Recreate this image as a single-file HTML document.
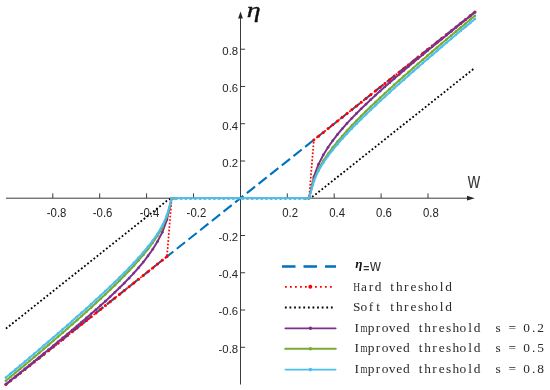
<!DOCTYPE html>
<html><head><meta charset="utf-8"><title>Threshold functions</title>
<style>html,body{margin:0;padding:0;background:#fff}svg{display:block}</style></head>
<body>
<svg width="550" height="390" viewBox="0 0 550 390">
<rect width="550" height="390" fill="#ffffff"/>
<g stroke="#262626" stroke-width="0.9" fill="none">
<path d="M6,198.2 H468"/>
<path d="M240.5,384.5 V18"/>
<path d="M52.80,198 v-4.6"/>
<path d="M240.5,347.29 h4.6"/>
<path d="M99.70,198 v-4.6"/>
<path d="M240.5,310.03 h4.6"/>
<path d="M146.60,198 v-4.6"/>
<path d="M240.5,272.77 h4.6"/>
<path d="M193.50,198 v-4.6"/>
<path d="M240.5,235.51 h4.6"/>
<path d="M287.30,198 v-4.6"/>
<path d="M240.5,160.99 h4.6"/>
<path d="M334.20,198 v-4.6"/>
<path d="M240.5,123.73 h4.6"/>
<path d="M381.10,198 v-4.6"/>
<path d="M240.5,86.47 h4.6"/>
<path d="M428.00,198 v-4.6"/>
<path d="M240.5,49.21 h4.6"/>
</g>
<path d="M474.8,198.2 l-7.8,-2.4 v4.8 z" fill="#262626"/>
<path d="M240.5,11.6 l-2.4,6.8 h4.8 z" fill="#262626"/>
<g font-family="'Liberation Sans', sans-serif" font-size="11.4" fill="#262626">
<text transform="translate(56.60,216.9) scale(1,1.1)" text-anchor="middle">-0.8</text>
<text x="238.2" y="352.59" text-anchor="end">-0.8</text>
<text transform="translate(102.60,216.9) scale(1,1.1)" text-anchor="middle">-0.6</text>
<text x="238.2" y="315.33" text-anchor="end">-0.6</text>
<text transform="translate(149.50,216.9) scale(1,1.1)" text-anchor="middle">-0.4</text>
<text x="238.2" y="278.07" text-anchor="end">-0.4</text>
<text transform="translate(196.40,216.9) scale(1,1.1)" text-anchor="middle">-0.2</text>
<text x="238.2" y="240.81" text-anchor="end">-0.2</text>
<text transform="translate(290.20,216.9) scale(1,1.1)" text-anchor="middle">0.2</text>
<text x="238.2" y="166.79" text-anchor="end">0.2</text>
<text transform="translate(337.10,216.9) scale(1,1.1)" text-anchor="middle">0.4</text>
<text x="238.2" y="129.53" text-anchor="end">0.4</text>
<text transform="translate(384.00,216.9) scale(1,1.1)" text-anchor="middle">0.6</text>
<text x="238.2" y="92.27" text-anchor="end">0.6</text>
<text transform="translate(430.90,216.9) scale(1,1.1)" text-anchor="middle">0.8</text>
<text x="238.2" y="55.01" text-anchor="end">0.8</text>
</g>
<path d="M5.90,384.55 L474.90,11.95" fill="none" stroke="#0072BD" stroke-width="2.1" stroke-dasharray="10.5 4.4" stroke-dashoffset="5.2"/>
<path d="M5.90,384.55 L10.64,380.79 L15.37,377.02 L20.11,373.26 L24.85,369.50 L29.59,365.73 L34.32,361.97 L39.06,358.20 L43.80,354.44 L48.54,350.68 L53.27,346.91 L58.01,343.15 L62.75,339.39 L67.49,335.62 L72.22,331.86 L76.96,328.10 L81.70,324.33 L86.44,320.57 L91.17,316.80 L95.91,313.04 L100.65,309.28 L105.38,305.51 L110.12,301.75 L114.86,297.99 L119.60,294.22 L124.33,290.46 L129.07,286.70 L133.81,282.93 L138.55,279.17 L143.28,275.40 L148.02,271.64 L152.76,267.88 L157.50,264.11 L162.23,260.35 L166.97,256.59 L171.71,198.25 L176.45,198.25 M304.35,198.25 L309.09,198.25 L313.83,139.91 L318.57,136.15 L323.30,132.39 L328.04,128.62 L332.78,124.86 L337.52,121.10 L342.25,117.33 L346.99,113.57 L351.73,109.80 L356.47,106.04 L361.20,102.28 L365.94,98.51 L370.68,94.75 L375.42,90.99 L380.15,87.22 L384.89,83.46 L389.63,79.70 L394.36,75.93 L399.10,72.17 L403.84,68.40 L408.58,64.64 L413.31,60.88 L418.05,57.11 L422.79,53.35 L427.53,49.59 L432.26,45.82 L437.00,42.06 L441.74,38.30 L446.48,34.53 L451.21,30.77 L455.95,27.00 L460.69,23.24 L465.43,19.48 L470.16,15.71 L474.90,11.95" fill="none" stroke="#ff0000" stroke-width="1.7" stroke-dasharray="1.7 1.8"/>
<circle cx="5.90" cy="384.55" r="1.5" fill="#ff0000"/><circle cx="10.64" cy="380.79" r="1.5" fill="#ff0000"/><circle cx="15.37" cy="377.02" r="1.5" fill="#ff0000"/><circle cx="20.11" cy="373.26" r="1.5" fill="#ff0000"/><circle cx="24.85" cy="369.50" r="1.5" fill="#ff0000"/><circle cx="29.59" cy="365.73" r="1.5" fill="#ff0000"/><circle cx="34.32" cy="361.97" r="1.5" fill="#ff0000"/><circle cx="39.06" cy="358.20" r="1.5" fill="#ff0000"/><circle cx="43.80" cy="354.44" r="1.5" fill="#ff0000"/><circle cx="48.54" cy="350.68" r="1.5" fill="#ff0000"/><circle cx="53.27" cy="346.91" r="1.5" fill="#ff0000"/><circle cx="58.01" cy="343.15" r="1.5" fill="#ff0000"/><circle cx="62.75" cy="339.39" r="1.5" fill="#ff0000"/><circle cx="67.49" cy="335.62" r="1.5" fill="#ff0000"/><circle cx="72.22" cy="331.86" r="1.5" fill="#ff0000"/><circle cx="76.96" cy="328.10" r="1.5" fill="#ff0000"/><circle cx="81.70" cy="324.33" r="1.5" fill="#ff0000"/><circle cx="86.44" cy="320.57" r="1.5" fill="#ff0000"/><circle cx="91.17" cy="316.80" r="1.5" fill="#ff0000"/><circle cx="95.91" cy="313.04" r="1.5" fill="#ff0000"/><circle cx="100.65" cy="309.28" r="1.5" fill="#ff0000"/><circle cx="105.38" cy="305.51" r="1.5" fill="#ff0000"/><circle cx="110.12" cy="301.75" r="1.5" fill="#ff0000"/><circle cx="114.86" cy="297.99" r="1.5" fill="#ff0000"/><circle cx="119.60" cy="294.22" r="1.5" fill="#ff0000"/><circle cx="124.33" cy="290.46" r="1.5" fill="#ff0000"/><circle cx="129.07" cy="286.70" r="1.5" fill="#ff0000"/><circle cx="133.81" cy="282.93" r="1.5" fill="#ff0000"/><circle cx="138.55" cy="279.17" r="1.5" fill="#ff0000"/><circle cx="143.28" cy="275.40" r="1.5" fill="#ff0000"/><circle cx="148.02" cy="271.64" r="1.5" fill="#ff0000"/><circle cx="152.76" cy="267.88" r="1.5" fill="#ff0000"/><circle cx="157.50" cy="264.11" r="1.5" fill="#ff0000"/><circle cx="162.23" cy="260.35" r="1.5" fill="#ff0000"/><circle cx="166.97" cy="256.59" r="1.5" fill="#ff0000"/><circle cx="313.83" cy="139.91" r="1.5" fill="#ff0000"/><circle cx="318.57" cy="136.15" r="1.5" fill="#ff0000"/><circle cx="323.30" cy="132.39" r="1.5" fill="#ff0000"/><circle cx="328.04" cy="128.62" r="1.5" fill="#ff0000"/><circle cx="332.78" cy="124.86" r="1.5" fill="#ff0000"/><circle cx="337.52" cy="121.10" r="1.5" fill="#ff0000"/><circle cx="342.25" cy="117.33" r="1.5" fill="#ff0000"/><circle cx="346.99" cy="113.57" r="1.5" fill="#ff0000"/><circle cx="351.73" cy="109.80" r="1.5" fill="#ff0000"/><circle cx="356.47" cy="106.04" r="1.5" fill="#ff0000"/><circle cx="361.20" cy="102.28" r="1.5" fill="#ff0000"/><circle cx="365.94" cy="98.51" r="1.5" fill="#ff0000"/><circle cx="370.68" cy="94.75" r="1.5" fill="#ff0000"/><circle cx="375.42" cy="90.99" r="1.5" fill="#ff0000"/><circle cx="380.15" cy="87.22" r="1.5" fill="#ff0000"/><circle cx="384.89" cy="83.46" r="1.5" fill="#ff0000"/><circle cx="389.63" cy="79.70" r="1.5" fill="#ff0000"/><circle cx="394.36" cy="75.93" r="1.5" fill="#ff0000"/><circle cx="399.10" cy="72.17" r="1.5" fill="#ff0000"/><circle cx="403.84" cy="68.40" r="1.5" fill="#ff0000"/><circle cx="408.58" cy="64.64" r="1.5" fill="#ff0000"/><circle cx="413.31" cy="60.88" r="1.5" fill="#ff0000"/><circle cx="418.05" cy="57.11" r="1.5" fill="#ff0000"/><circle cx="422.79" cy="53.35" r="1.5" fill="#ff0000"/><circle cx="427.53" cy="49.59" r="1.5" fill="#ff0000"/><circle cx="432.26" cy="45.82" r="1.5" fill="#ff0000"/><circle cx="437.00" cy="42.06" r="1.5" fill="#ff0000"/><circle cx="441.74" cy="38.30" r="1.5" fill="#ff0000"/><circle cx="446.48" cy="34.53" r="1.5" fill="#ff0000"/><circle cx="451.21" cy="30.77" r="1.5" fill="#ff0000"/><circle cx="455.95" cy="27.00" r="1.5" fill="#ff0000"/><circle cx="460.69" cy="23.24" r="1.5" fill="#ff0000"/><circle cx="465.43" cy="19.48" r="1.5" fill="#ff0000"/><circle cx="470.16" cy="15.71" r="1.5" fill="#ff0000"/><circle cx="474.90" cy="11.95" r="1.5" fill="#ff0000"/>
<path d="M5.90,328.66 L10.64,324.90 L15.37,321.13 L20.11,317.37 L24.85,313.61 L29.59,309.84 L34.32,306.08 L39.06,302.31 L43.80,298.55 L48.54,294.79 L53.27,291.02 L58.01,287.26 L62.75,283.50 L67.49,279.73 L72.22,275.97 L76.96,272.21 L81.70,268.44 L86.44,264.68 L91.17,260.91 L95.91,257.15 L100.65,253.39 L105.38,249.62 L110.12,245.86 L114.86,242.10 L119.60,238.33 L124.33,234.57 L129.07,230.81 L133.81,227.04 L138.55,223.28 L143.28,219.51 L148.02,215.75 L152.76,211.99 L157.50,208.22 L162.23,204.46 L166.97,200.70 L171.71,198.25 L176.45,198.25 M304.35,198.25 L309.09,198.25 L313.83,195.80 L318.57,192.04 L323.30,188.28 L328.04,184.51 L332.78,180.75 L337.52,176.99 L342.25,173.22 L346.99,169.46 L351.73,165.69 L356.47,161.93 L361.20,158.17 L365.94,154.40 L370.68,150.64 L375.42,146.88 L380.15,143.11 L384.89,139.35 L389.63,135.59 L394.36,131.82 L399.10,128.06 L403.84,124.29 L408.58,120.53 L413.31,116.77 L418.05,113.00 L422.79,109.24 L427.53,105.48 L432.26,101.71 L437.00,97.95 L441.74,94.19 L446.48,90.42 L451.21,86.66 L455.95,82.89 L460.69,79.13 L465.43,75.37 L470.16,71.60 L474.90,67.84" fill="none" stroke="#000000" stroke-width="1.8" stroke-dasharray="1.8 2.2"/>
<path d="M5.90,384.18 L10.64,380.37 L15.37,376.56 L20.11,372.74 L24.85,368.91 L29.59,365.08 L34.32,361.24 L39.06,357.39 L43.80,353.52 L48.54,349.65 L53.27,345.76 L58.01,341.85 L62.75,337.93 L67.49,333.99 L72.22,330.02 L76.96,326.02 L81.70,321.99 L86.44,317.92 L91.17,313.81 L95.91,309.65 L100.65,305.44 L105.38,301.15 L110.12,296.78 L114.86,292.32 L119.60,287.75 L124.33,283.04 L129.07,278.16 L133.81,273.08 L138.55,267.74 L143.28,262.06 L148.02,255.94 L152.76,249.21 L157.50,241.56 L162.23,232.35 L166.97,219.62 L171.71,198.25 L176.45,198.25 M304.35,198.25 L309.09,198.25 L313.83,176.88 L318.57,164.15 L323.30,154.94 L328.04,147.29 L332.78,140.56 L337.52,134.44 L342.25,128.76 L346.99,123.42 L351.73,118.34 L356.47,113.46 L361.20,108.75 L365.94,104.18 L370.68,99.72 L375.42,95.35 L380.15,91.06 L384.89,86.85 L389.63,82.69 L394.36,78.58 L399.10,74.51 L403.84,70.48 L408.58,66.48 L413.31,62.51 L418.05,58.57 L422.79,54.65 L427.53,50.74 L432.26,46.85 L437.00,42.98 L441.74,39.11 L446.48,35.26 L451.21,31.42 L455.95,27.59 L460.69,23.76 L465.43,19.94 L470.16,16.13 L474.90,12.32" fill="none" stroke="#7E2F8E" stroke-width="2" stroke-linejoin="round"/>
<circle cx="5.90" cy="384.18" r="1.35" fill="#7E2F8E"/><circle cx="10.64" cy="380.37" r="1.35" fill="#7E2F8E"/><circle cx="15.37" cy="376.56" r="1.35" fill="#7E2F8E"/><circle cx="20.11" cy="372.74" r="1.35" fill="#7E2F8E"/><circle cx="24.85" cy="368.91" r="1.35" fill="#7E2F8E"/><circle cx="29.59" cy="365.08" r="1.35" fill="#7E2F8E"/><circle cx="34.32" cy="361.24" r="1.35" fill="#7E2F8E"/><circle cx="39.06" cy="357.39" r="1.35" fill="#7E2F8E"/><circle cx="43.80" cy="353.52" r="1.35" fill="#7E2F8E"/><circle cx="48.54" cy="349.65" r="1.35" fill="#7E2F8E"/><circle cx="53.27" cy="345.76" r="1.35" fill="#7E2F8E"/><circle cx="58.01" cy="341.85" r="1.35" fill="#7E2F8E"/><circle cx="62.75" cy="337.93" r="1.35" fill="#7E2F8E"/><circle cx="67.49" cy="333.99" r="1.35" fill="#7E2F8E"/><circle cx="72.22" cy="330.02" r="1.35" fill="#7E2F8E"/><circle cx="76.96" cy="326.02" r="1.35" fill="#7E2F8E"/><circle cx="81.70" cy="321.99" r="1.35" fill="#7E2F8E"/><circle cx="86.44" cy="317.92" r="1.35" fill="#7E2F8E"/><circle cx="91.17" cy="313.81" r="1.35" fill="#7E2F8E"/><circle cx="95.91" cy="309.65" r="1.35" fill="#7E2F8E"/><circle cx="100.65" cy="305.44" r="1.35" fill="#7E2F8E"/><circle cx="105.38" cy="301.15" r="1.35" fill="#7E2F8E"/><circle cx="110.12" cy="296.78" r="1.35" fill="#7E2F8E"/><circle cx="114.86" cy="292.32" r="1.35" fill="#7E2F8E"/><circle cx="119.60" cy="287.75" r="1.35" fill="#7E2F8E"/><circle cx="124.33" cy="283.04" r="1.35" fill="#7E2F8E"/><circle cx="129.07" cy="278.16" r="1.35" fill="#7E2F8E"/><circle cx="133.81" cy="273.08" r="1.35" fill="#7E2F8E"/><circle cx="138.55" cy="267.74" r="1.35" fill="#7E2F8E"/><circle cx="143.28" cy="262.06" r="1.35" fill="#7E2F8E"/><circle cx="148.02" cy="255.94" r="1.35" fill="#7E2F8E"/><circle cx="152.76" cy="249.21" r="1.35" fill="#7E2F8E"/><circle cx="157.50" cy="241.56" r="1.35" fill="#7E2F8E"/><circle cx="162.23" cy="232.35" r="1.35" fill="#7E2F8E"/><circle cx="166.97" cy="219.62" r="1.35" fill="#7E2F8E"/><circle cx="171.71" cy="198.25" r="1.35" fill="#7E2F8E"/><circle cx="176.45" cy="198.25" r="1.35" fill="#7E2F8E"/><circle cx="181.18" cy="198.25" r="1.35" fill="#7E2F8E"/><circle cx="185.92" cy="198.25" r="1.35" fill="#7E2F8E"/><circle cx="190.66" cy="198.25" r="1.35" fill="#7E2F8E"/><circle cx="195.39" cy="198.25" r="1.35" fill="#7E2F8E"/><circle cx="200.13" cy="198.25" r="1.35" fill="#7E2F8E"/><circle cx="204.87" cy="198.25" r="1.35" fill="#7E2F8E"/><circle cx="209.61" cy="198.25" r="1.35" fill="#7E2F8E"/><circle cx="214.34" cy="198.25" r="1.35" fill="#7E2F8E"/><circle cx="219.08" cy="198.25" r="1.35" fill="#7E2F8E"/><circle cx="223.82" cy="198.25" r="1.35" fill="#7E2F8E"/><circle cx="228.56" cy="198.25" r="1.35" fill="#7E2F8E"/><circle cx="233.29" cy="198.25" r="1.35" fill="#7E2F8E"/><circle cx="238.03" cy="198.25" r="1.35" fill="#7E2F8E"/><circle cx="242.77" cy="198.25" r="1.35" fill="#7E2F8E"/><circle cx="247.51" cy="198.25" r="1.35" fill="#7E2F8E"/><circle cx="252.24" cy="198.25" r="1.35" fill="#7E2F8E"/><circle cx="256.98" cy="198.25" r="1.35" fill="#7E2F8E"/><circle cx="261.72" cy="198.25" r="1.35" fill="#7E2F8E"/><circle cx="266.46" cy="198.25" r="1.35" fill="#7E2F8E"/><circle cx="271.19" cy="198.25" r="1.35" fill="#7E2F8E"/><circle cx="275.93" cy="198.25" r="1.35" fill="#7E2F8E"/><circle cx="280.67" cy="198.25" r="1.35" fill="#7E2F8E"/><circle cx="285.41" cy="198.25" r="1.35" fill="#7E2F8E"/><circle cx="290.14" cy="198.25" r="1.35" fill="#7E2F8E"/><circle cx="294.88" cy="198.25" r="1.35" fill="#7E2F8E"/><circle cx="299.62" cy="198.25" r="1.35" fill="#7E2F8E"/><circle cx="304.35" cy="198.25" r="1.35" fill="#7E2F8E"/><circle cx="309.09" cy="198.25" r="1.35" fill="#7E2F8E"/><circle cx="313.83" cy="176.88" r="1.35" fill="#7E2F8E"/><circle cx="318.57" cy="164.15" r="1.35" fill="#7E2F8E"/><circle cx="323.30" cy="154.94" r="1.35" fill="#7E2F8E"/><circle cx="328.04" cy="147.29" r="1.35" fill="#7E2F8E"/><circle cx="332.78" cy="140.56" r="1.35" fill="#7E2F8E"/><circle cx="337.52" cy="134.44" r="1.35" fill="#7E2F8E"/><circle cx="342.25" cy="128.76" r="1.35" fill="#7E2F8E"/><circle cx="346.99" cy="123.42" r="1.35" fill="#7E2F8E"/><circle cx="351.73" cy="118.34" r="1.35" fill="#7E2F8E"/><circle cx="356.47" cy="113.46" r="1.35" fill="#7E2F8E"/><circle cx="361.20" cy="108.75" r="1.35" fill="#7E2F8E"/><circle cx="365.94" cy="104.18" r="1.35" fill="#7E2F8E"/><circle cx="370.68" cy="99.72" r="1.35" fill="#7E2F8E"/><circle cx="375.42" cy="95.35" r="1.35" fill="#7E2F8E"/><circle cx="380.15" cy="91.06" r="1.35" fill="#7E2F8E"/><circle cx="384.89" cy="86.85" r="1.35" fill="#7E2F8E"/><circle cx="389.63" cy="82.69" r="1.35" fill="#7E2F8E"/><circle cx="394.36" cy="78.58" r="1.35" fill="#7E2F8E"/><circle cx="399.10" cy="74.51" r="1.35" fill="#7E2F8E"/><circle cx="403.84" cy="70.48" r="1.35" fill="#7E2F8E"/><circle cx="408.58" cy="66.48" r="1.35" fill="#7E2F8E"/><circle cx="413.31" cy="62.51" r="1.35" fill="#7E2F8E"/><circle cx="418.05" cy="58.57" r="1.35" fill="#7E2F8E"/><circle cx="422.79" cy="54.65" r="1.35" fill="#7E2F8E"/><circle cx="427.53" cy="50.74" r="1.35" fill="#7E2F8E"/><circle cx="432.26" cy="46.85" r="1.35" fill="#7E2F8E"/><circle cx="437.00" cy="42.98" r="1.35" fill="#7E2F8E"/><circle cx="441.74" cy="39.11" r="1.35" fill="#7E2F8E"/><circle cx="446.48" cy="35.26" r="1.35" fill="#7E2F8E"/><circle cx="451.21" cy="31.42" r="1.35" fill="#7E2F8E"/><circle cx="455.95" cy="27.59" r="1.35" fill="#7E2F8E"/><circle cx="460.69" cy="23.76" r="1.35" fill="#7E2F8E"/><circle cx="465.43" cy="19.94" r="1.35" fill="#7E2F8E"/><circle cx="470.16" cy="16.13" r="1.35" fill="#7E2F8E"/><circle cx="474.90" cy="12.32" r="1.35" fill="#7E2F8E"/>
<path d="M5.90,380.73 L10.64,376.79 L15.37,372.85 L20.11,368.89 L24.85,364.92 L29.59,360.94 L34.32,356.95 L39.06,352.94 L43.80,348.92 L48.54,344.88 L53.27,340.82 L58.01,336.75 L62.75,332.65 L67.49,328.52 L72.22,324.37 L76.96,320.19 L81.70,315.98 L86.44,311.73 L91.17,307.45 L95.91,303.11 L100.65,298.73 L105.38,294.28 L110.12,289.77 L114.86,285.18 L119.60,280.50 L124.33,275.71 L129.07,270.79 L133.81,265.71 L138.55,260.43 L143.28,254.90 L148.02,249.03 L152.76,242.69 L157.50,235.65 L162.23,227.38 L166.97,216.30 L171.71,198.25 L176.45,198.25 M304.35,198.25 L309.09,198.25 L313.83,180.20 L318.57,169.12 L323.30,160.85 L328.04,153.81 L332.78,147.47 L337.52,141.60 L342.25,136.07 L346.99,130.79 L351.73,125.71 L356.47,120.79 L361.20,116.00 L365.94,111.32 L370.68,106.73 L375.42,102.22 L380.15,97.77 L384.89,93.39 L389.63,89.05 L394.36,84.77 L399.10,80.52 L403.84,76.31 L408.58,72.13 L413.31,67.98 L418.05,63.85 L422.79,59.75 L427.53,55.68 L432.26,51.62 L437.00,47.58 L441.74,43.56 L446.48,39.55 L451.21,35.56 L455.95,31.58 L460.69,27.61 L465.43,23.65 L470.16,19.71 L474.90,15.77" fill="none" stroke="#77AC30" stroke-width="2" stroke-linejoin="round"/>
<circle cx="5.90" cy="380.73" r="1.35" fill="#77AC30"/><circle cx="10.64" cy="376.79" r="1.35" fill="#77AC30"/><circle cx="15.37" cy="372.85" r="1.35" fill="#77AC30"/><circle cx="20.11" cy="368.89" r="1.35" fill="#77AC30"/><circle cx="24.85" cy="364.92" r="1.35" fill="#77AC30"/><circle cx="29.59" cy="360.94" r="1.35" fill="#77AC30"/><circle cx="34.32" cy="356.95" r="1.35" fill="#77AC30"/><circle cx="39.06" cy="352.94" r="1.35" fill="#77AC30"/><circle cx="43.80" cy="348.92" r="1.35" fill="#77AC30"/><circle cx="48.54" cy="344.88" r="1.35" fill="#77AC30"/><circle cx="53.27" cy="340.82" r="1.35" fill="#77AC30"/><circle cx="58.01" cy="336.75" r="1.35" fill="#77AC30"/><circle cx="62.75" cy="332.65" r="1.35" fill="#77AC30"/><circle cx="67.49" cy="328.52" r="1.35" fill="#77AC30"/><circle cx="72.22" cy="324.37" r="1.35" fill="#77AC30"/><circle cx="76.96" cy="320.19" r="1.35" fill="#77AC30"/><circle cx="81.70" cy="315.98" r="1.35" fill="#77AC30"/><circle cx="86.44" cy="311.73" r="1.35" fill="#77AC30"/><circle cx="91.17" cy="307.45" r="1.35" fill="#77AC30"/><circle cx="95.91" cy="303.11" r="1.35" fill="#77AC30"/><circle cx="100.65" cy="298.73" r="1.35" fill="#77AC30"/><circle cx="105.38" cy="294.28" r="1.35" fill="#77AC30"/><circle cx="110.12" cy="289.77" r="1.35" fill="#77AC30"/><circle cx="114.86" cy="285.18" r="1.35" fill="#77AC30"/><circle cx="119.60" cy="280.50" r="1.35" fill="#77AC30"/><circle cx="124.33" cy="275.71" r="1.35" fill="#77AC30"/><circle cx="129.07" cy="270.79" r="1.35" fill="#77AC30"/><circle cx="133.81" cy="265.71" r="1.35" fill="#77AC30"/><circle cx="138.55" cy="260.43" r="1.35" fill="#77AC30"/><circle cx="143.28" cy="254.90" r="1.35" fill="#77AC30"/><circle cx="148.02" cy="249.03" r="1.35" fill="#77AC30"/><circle cx="152.76" cy="242.69" r="1.35" fill="#77AC30"/><circle cx="157.50" cy="235.65" r="1.35" fill="#77AC30"/><circle cx="162.23" cy="227.38" r="1.35" fill="#77AC30"/><circle cx="166.97" cy="216.30" r="1.35" fill="#77AC30"/><circle cx="171.71" cy="198.25" r="1.35" fill="#77AC30"/><circle cx="176.45" cy="198.25" r="1.35" fill="#77AC30"/><circle cx="181.18" cy="198.25" r="1.35" fill="#77AC30"/><circle cx="185.92" cy="198.25" r="1.35" fill="#77AC30"/><circle cx="190.66" cy="198.25" r="1.35" fill="#77AC30"/><circle cx="195.39" cy="198.25" r="1.35" fill="#77AC30"/><circle cx="200.13" cy="198.25" r="1.35" fill="#77AC30"/><circle cx="204.87" cy="198.25" r="1.35" fill="#77AC30"/><circle cx="209.61" cy="198.25" r="1.35" fill="#77AC30"/><circle cx="214.34" cy="198.25" r="1.35" fill="#77AC30"/><circle cx="219.08" cy="198.25" r="1.35" fill="#77AC30"/><circle cx="223.82" cy="198.25" r="1.35" fill="#77AC30"/><circle cx="228.56" cy="198.25" r="1.35" fill="#77AC30"/><circle cx="233.29" cy="198.25" r="1.35" fill="#77AC30"/><circle cx="238.03" cy="198.25" r="1.35" fill="#77AC30"/><circle cx="242.77" cy="198.25" r="1.35" fill="#77AC30"/><circle cx="247.51" cy="198.25" r="1.35" fill="#77AC30"/><circle cx="252.24" cy="198.25" r="1.35" fill="#77AC30"/><circle cx="256.98" cy="198.25" r="1.35" fill="#77AC30"/><circle cx="261.72" cy="198.25" r="1.35" fill="#77AC30"/><circle cx="266.46" cy="198.25" r="1.35" fill="#77AC30"/><circle cx="271.19" cy="198.25" r="1.35" fill="#77AC30"/><circle cx="275.93" cy="198.25" r="1.35" fill="#77AC30"/><circle cx="280.67" cy="198.25" r="1.35" fill="#77AC30"/><circle cx="285.41" cy="198.25" r="1.35" fill="#77AC30"/><circle cx="290.14" cy="198.25" r="1.35" fill="#77AC30"/><circle cx="294.88" cy="198.25" r="1.35" fill="#77AC30"/><circle cx="299.62" cy="198.25" r="1.35" fill="#77AC30"/><circle cx="304.35" cy="198.25" r="1.35" fill="#77AC30"/><circle cx="309.09" cy="198.25" r="1.35" fill="#77AC30"/><circle cx="313.83" cy="180.20" r="1.35" fill="#77AC30"/><circle cx="318.57" cy="169.12" r="1.35" fill="#77AC30"/><circle cx="323.30" cy="160.85" r="1.35" fill="#77AC30"/><circle cx="328.04" cy="153.81" r="1.35" fill="#77AC30"/><circle cx="332.78" cy="147.47" r="1.35" fill="#77AC30"/><circle cx="337.52" cy="141.60" r="1.35" fill="#77AC30"/><circle cx="342.25" cy="136.07" r="1.35" fill="#77AC30"/><circle cx="346.99" cy="130.79" r="1.35" fill="#77AC30"/><circle cx="351.73" cy="125.71" r="1.35" fill="#77AC30"/><circle cx="356.47" cy="120.79" r="1.35" fill="#77AC30"/><circle cx="361.20" cy="116.00" r="1.35" fill="#77AC30"/><circle cx="365.94" cy="111.32" r="1.35" fill="#77AC30"/><circle cx="370.68" cy="106.73" r="1.35" fill="#77AC30"/><circle cx="375.42" cy="102.22" r="1.35" fill="#77AC30"/><circle cx="380.15" cy="97.77" r="1.35" fill="#77AC30"/><circle cx="384.89" cy="93.39" r="1.35" fill="#77AC30"/><circle cx="389.63" cy="89.05" r="1.35" fill="#77AC30"/><circle cx="394.36" cy="84.77" r="1.35" fill="#77AC30"/><circle cx="399.10" cy="80.52" r="1.35" fill="#77AC30"/><circle cx="403.84" cy="76.31" r="1.35" fill="#77AC30"/><circle cx="408.58" cy="72.13" r="1.35" fill="#77AC30"/><circle cx="413.31" cy="67.98" r="1.35" fill="#77AC30"/><circle cx="418.05" cy="63.85" r="1.35" fill="#77AC30"/><circle cx="422.79" cy="59.75" r="1.35" fill="#77AC30"/><circle cx="427.53" cy="55.68" r="1.35" fill="#77AC30"/><circle cx="432.26" cy="51.62" r="1.35" fill="#77AC30"/><circle cx="437.00" cy="47.58" r="1.35" fill="#77AC30"/><circle cx="441.74" cy="43.56" r="1.35" fill="#77AC30"/><circle cx="446.48" cy="39.55" r="1.35" fill="#77AC30"/><circle cx="451.21" cy="35.56" r="1.35" fill="#77AC30"/><circle cx="455.95" cy="31.58" r="1.35" fill="#77AC30"/><circle cx="460.69" cy="27.61" r="1.35" fill="#77AC30"/><circle cx="465.43" cy="23.65" r="1.35" fill="#77AC30"/><circle cx="470.16" cy="19.71" r="1.35" fill="#77AC30"/><circle cx="474.90" cy="15.77" r="1.35" fill="#77AC30"/>
<path d="M5.90,377.55 L10.64,373.60 L15.37,369.63 L20.11,365.66 L24.85,361.68 L29.59,357.68 L34.32,353.67 L39.06,349.65 L43.80,345.62 L48.54,341.57 L53.27,337.50 L58.01,333.42 L62.75,329.32 L67.49,325.19 L72.22,321.05 L76.96,316.87 L81.70,312.67 L86.44,308.43 L91.17,304.16 L95.91,299.85 L100.65,295.50 L105.38,291.09 L110.12,286.62 L114.86,282.08 L119.60,277.45 L124.33,272.74 L129.07,267.90 L133.81,262.92 L138.55,257.76 L143.28,252.37 L148.02,246.68 L152.76,240.55 L157.50,233.77 L162.23,225.86 L166.97,215.31 L171.71,198.25 L176.45,198.25 L181.18,198.25 L185.92,198.25 L190.66,198.25 L195.39,198.25 L200.13,198.25 L204.87,198.25 L209.61,198.25 L214.34,198.25 L219.08,198.25 L223.82,198.25 L228.56,198.25 L233.29,198.25 L238.03,198.25 L242.77,198.25 L247.51,198.25 L252.24,198.25 L256.98,198.25 L261.72,198.25 L266.46,198.25 L271.19,198.25 L275.93,198.25 L280.67,198.25 L285.41,198.25 L290.14,198.25 L294.88,198.25 L299.62,198.25 L304.35,198.25 L309.09,198.25 L313.83,181.19 L318.57,170.64 L323.30,162.73 L328.04,155.95 L332.78,149.82 L337.52,144.13 L342.25,138.74 L346.99,133.58 L351.73,128.60 L356.47,123.76 L361.20,119.05 L365.94,114.42 L370.68,109.88 L375.42,105.41 L380.15,101.00 L384.89,96.65 L389.63,92.34 L394.36,88.07 L399.10,83.83 L403.84,79.63 L408.58,75.45 L413.31,71.31 L418.05,67.18 L422.79,63.08 L427.53,59.00 L432.26,54.93 L437.00,50.88 L441.74,46.85 L446.48,42.83 L451.21,38.82 L455.95,34.82 L460.69,30.84 L465.43,26.87 L470.16,22.90 L474.90,18.95" fill="none" stroke="#4DBEEE" stroke-width="2" stroke-linejoin="round"/>
<circle cx="5.90" cy="377.55" r="1.35" fill="#4DBEEE"/><circle cx="10.64" cy="373.60" r="1.35" fill="#4DBEEE"/><circle cx="15.37" cy="369.63" r="1.35" fill="#4DBEEE"/><circle cx="20.11" cy="365.66" r="1.35" fill="#4DBEEE"/><circle cx="24.85" cy="361.68" r="1.35" fill="#4DBEEE"/><circle cx="29.59" cy="357.68" r="1.35" fill="#4DBEEE"/><circle cx="34.32" cy="353.67" r="1.35" fill="#4DBEEE"/><circle cx="39.06" cy="349.65" r="1.35" fill="#4DBEEE"/><circle cx="43.80" cy="345.62" r="1.35" fill="#4DBEEE"/><circle cx="48.54" cy="341.57" r="1.35" fill="#4DBEEE"/><circle cx="53.27" cy="337.50" r="1.35" fill="#4DBEEE"/><circle cx="58.01" cy="333.42" r="1.35" fill="#4DBEEE"/><circle cx="62.75" cy="329.32" r="1.35" fill="#4DBEEE"/><circle cx="67.49" cy="325.19" r="1.35" fill="#4DBEEE"/><circle cx="72.22" cy="321.05" r="1.35" fill="#4DBEEE"/><circle cx="76.96" cy="316.87" r="1.35" fill="#4DBEEE"/><circle cx="81.70" cy="312.67" r="1.35" fill="#4DBEEE"/><circle cx="86.44" cy="308.43" r="1.35" fill="#4DBEEE"/><circle cx="91.17" cy="304.16" r="1.35" fill="#4DBEEE"/><circle cx="95.91" cy="299.85" r="1.35" fill="#4DBEEE"/><circle cx="100.65" cy="295.50" r="1.35" fill="#4DBEEE"/><circle cx="105.38" cy="291.09" r="1.35" fill="#4DBEEE"/><circle cx="110.12" cy="286.62" r="1.35" fill="#4DBEEE"/><circle cx="114.86" cy="282.08" r="1.35" fill="#4DBEEE"/><circle cx="119.60" cy="277.45" r="1.35" fill="#4DBEEE"/><circle cx="124.33" cy="272.74" r="1.35" fill="#4DBEEE"/><circle cx="129.07" cy="267.90" r="1.35" fill="#4DBEEE"/><circle cx="133.81" cy="262.92" r="1.35" fill="#4DBEEE"/><circle cx="138.55" cy="257.76" r="1.35" fill="#4DBEEE"/><circle cx="143.28" cy="252.37" r="1.35" fill="#4DBEEE"/><circle cx="148.02" cy="246.68" r="1.35" fill="#4DBEEE"/><circle cx="152.76" cy="240.55" r="1.35" fill="#4DBEEE"/><circle cx="157.50" cy="233.77" r="1.35" fill="#4DBEEE"/><circle cx="162.23" cy="225.86" r="1.35" fill="#4DBEEE"/><circle cx="166.97" cy="215.31" r="1.35" fill="#4DBEEE"/><circle cx="171.71" cy="198.25" r="1.35" fill="#4DBEEE"/><circle cx="176.45" cy="198.25" r="1.35" fill="#4DBEEE"/><circle cx="181.18" cy="198.25" r="1.35" fill="#4DBEEE"/><circle cx="185.92" cy="198.25" r="1.35" fill="#4DBEEE"/><circle cx="190.66" cy="198.25" r="1.35" fill="#4DBEEE"/><circle cx="195.39" cy="198.25" r="1.35" fill="#4DBEEE"/><circle cx="200.13" cy="198.25" r="1.35" fill="#4DBEEE"/><circle cx="204.87" cy="198.25" r="1.35" fill="#4DBEEE"/><circle cx="209.61" cy="198.25" r="1.35" fill="#4DBEEE"/><circle cx="214.34" cy="198.25" r="1.35" fill="#4DBEEE"/><circle cx="219.08" cy="198.25" r="1.35" fill="#4DBEEE"/><circle cx="223.82" cy="198.25" r="1.35" fill="#4DBEEE"/><circle cx="228.56" cy="198.25" r="1.35" fill="#4DBEEE"/><circle cx="233.29" cy="198.25" r="1.35" fill="#4DBEEE"/><circle cx="238.03" cy="198.25" r="1.35" fill="#4DBEEE"/><circle cx="242.77" cy="198.25" r="1.35" fill="#4DBEEE"/><circle cx="247.51" cy="198.25" r="1.35" fill="#4DBEEE"/><circle cx="252.24" cy="198.25" r="1.35" fill="#4DBEEE"/><circle cx="256.98" cy="198.25" r="1.35" fill="#4DBEEE"/><circle cx="261.72" cy="198.25" r="1.35" fill="#4DBEEE"/><circle cx="266.46" cy="198.25" r="1.35" fill="#4DBEEE"/><circle cx="271.19" cy="198.25" r="1.35" fill="#4DBEEE"/><circle cx="275.93" cy="198.25" r="1.35" fill="#4DBEEE"/><circle cx="280.67" cy="198.25" r="1.35" fill="#4DBEEE"/><circle cx="285.41" cy="198.25" r="1.35" fill="#4DBEEE"/><circle cx="290.14" cy="198.25" r="1.35" fill="#4DBEEE"/><circle cx="294.88" cy="198.25" r="1.35" fill="#4DBEEE"/><circle cx="299.62" cy="198.25" r="1.35" fill="#4DBEEE"/><circle cx="304.35" cy="198.25" r="1.35" fill="#4DBEEE"/><circle cx="309.09" cy="198.25" r="1.35" fill="#4DBEEE"/><circle cx="313.83" cy="181.19" r="1.35" fill="#4DBEEE"/><circle cx="318.57" cy="170.64" r="1.35" fill="#4DBEEE"/><circle cx="323.30" cy="162.73" r="1.35" fill="#4DBEEE"/><circle cx="328.04" cy="155.95" r="1.35" fill="#4DBEEE"/><circle cx="332.78" cy="149.82" r="1.35" fill="#4DBEEE"/><circle cx="337.52" cy="144.13" r="1.35" fill="#4DBEEE"/><circle cx="342.25" cy="138.74" r="1.35" fill="#4DBEEE"/><circle cx="346.99" cy="133.58" r="1.35" fill="#4DBEEE"/><circle cx="351.73" cy="128.60" r="1.35" fill="#4DBEEE"/><circle cx="356.47" cy="123.76" r="1.35" fill="#4DBEEE"/><circle cx="361.20" cy="119.05" r="1.35" fill="#4DBEEE"/><circle cx="365.94" cy="114.42" r="1.35" fill="#4DBEEE"/><circle cx="370.68" cy="109.88" r="1.35" fill="#4DBEEE"/><circle cx="375.42" cy="105.41" r="1.35" fill="#4DBEEE"/><circle cx="380.15" cy="101.00" r="1.35" fill="#4DBEEE"/><circle cx="384.89" cy="96.65" r="1.35" fill="#4DBEEE"/><circle cx="389.63" cy="92.34" r="1.35" fill="#4DBEEE"/><circle cx="394.36" cy="88.07" r="1.35" fill="#4DBEEE"/><circle cx="399.10" cy="83.83" r="1.35" fill="#4DBEEE"/><circle cx="403.84" cy="79.63" r="1.35" fill="#4DBEEE"/><circle cx="408.58" cy="75.45" r="1.35" fill="#4DBEEE"/><circle cx="413.31" cy="71.31" r="1.35" fill="#4DBEEE"/><circle cx="418.05" cy="67.18" r="1.35" fill="#4DBEEE"/><circle cx="422.79" cy="63.08" r="1.35" fill="#4DBEEE"/><circle cx="427.53" cy="59.00" r="1.35" fill="#4DBEEE"/><circle cx="432.26" cy="54.93" r="1.35" fill="#4DBEEE"/><circle cx="437.00" cy="50.88" r="1.35" fill="#4DBEEE"/><circle cx="441.74" cy="46.85" r="1.35" fill="#4DBEEE"/><circle cx="446.48" cy="42.83" r="1.35" fill="#4DBEEE"/><circle cx="451.21" cy="38.82" r="1.35" fill="#4DBEEE"/><circle cx="455.95" cy="34.82" r="1.35" fill="#4DBEEE"/><circle cx="460.69" cy="30.84" r="1.35" fill="#4DBEEE"/><circle cx="465.43" cy="26.87" r="1.35" fill="#4DBEEE"/><circle cx="470.16" cy="22.90" r="1.35" fill="#4DBEEE"/><circle cx="474.90" cy="18.95" r="1.35" fill="#4DBEEE"/>
<path d="M282,266.5 H336" stroke="#0072BD" stroke-width="2.5" stroke-dasharray="13.5 8" fill="none"/>
<path d="M285,286.8 H333" stroke="#ff0000" stroke-width="1.7" stroke-dasharray="1.8 3.2" fill="none"/><circle cx="310.3" cy="286.8" r="2" fill="#ff0000"/>
<path d="M284.9,307.5 H333" stroke="#000" stroke-width="1.8" stroke-dasharray="1.8 2.8" fill="none"/>
<path d="M285.3,328.3 H335.7" stroke="#7E2F8E" stroke-width="1.7" stroke-linecap="round" fill="none"/><circle cx="310.4" cy="328.3" r="1.8" fill="#7E2F8E"/>
<path d="M285.3,348.8 H335.7" stroke="#77AC30" stroke-width="2.1" stroke-linecap="round" fill="none"/><circle cx="310.4" cy="348.8" r="1.8" fill="#77AC30"/>
<path d="M285.3,369.6 H335.7" stroke="#4DBEEE" stroke-width="1.6" stroke-linecap="round" fill="none"/><circle cx="310.4" cy="369.6" r="1.8" fill="#4DBEEE"/>
<g font-family="'Liberation Serif', serif" font-size="13.4" fill="#2a2a2a" text-anchor="middle">
<text x="356.8 363.9 371.0 378.0 385.1 392.2 399.3 406.3 413.4 420.5 427.5 434.6 441.7 448.7" y="290.7" xml:space="preserve"><tspan textLength="6.9" lengthAdjust="spacingAndGlyphs">H</tspan>ard threshold</text>
<text x="356.8 363.9 371.0 378.0 385.1 392.2 399.3 406.3 413.4 420.5 427.5 434.6 441.7 448.7" y="311.2" xml:space="preserve">Soft threshold</text>
<text x="356.8 363.9 371.0 378.0 385.1 392.2 399.3 406.3 413.4 420.5 427.5 434.6 441.7 448.7 455.8 462.9 470.0 477.0 484.1 491.2 498.2 505.3 512.4 519.4 526.5 533.6 540.7" y="331.9" xml:space="preserve">I<tspan textLength="6.9" lengthAdjust="spacingAndGlyphs">m</tspan>proved threshold  s = 0.2</text>
<text x="356.8 363.9 371.0 378.0 385.1 392.2 399.3 406.3 413.4 420.5 427.5 434.6 441.7 448.7 455.8 462.9 470.0 477.0 484.1 491.2 498.2 505.3 512.4 519.4 526.5 533.6 540.7" y="352.3" xml:space="preserve">I<tspan textLength="6.9" lengthAdjust="spacingAndGlyphs">m</tspan>proved threshold  s = 0.5</text>
<text x="356.8 363.9 371.0 378.0 385.1 392.2 399.3 406.3 413.4 420.5 427.5 434.6 441.7 448.7 455.8 462.9 470.0 477.0 484.1 491.2 498.2 505.3 512.4 519.4 526.5 533.6 540.7" y="373.0" xml:space="preserve">I<tspan textLength="6.9" lengthAdjust="spacingAndGlyphs">m</tspan>proved threshold  s = 0.8</text>
</g>
<text font-family="'Liberation Serif', serif" fill="#111"><tspan x="355.2" y="267.8" font-size="13.2" font-style="italic" font-weight="bold">η</tspan><tspan x="363.3" y="271.6" font-size="10.5" font-weight="bold" font-family="'Liberation Sans', sans-serif" fill="#333">=</tspan><tspan x="369.9" y="271.1" font-size="16" font-family="'Liberation Sans', sans-serif" fill="#333" textLength="10.9" lengthAdjust="spacingAndGlyphs">w</tspan></text>
<text transform="translate(246.8,17.0) scale(1.3,1)" font-family="'Liberation Serif', serif" font-style="italic" font-size="21.5" fill="#111" stroke="#111" stroke-width="0.35">η</text>
<text x="467.7" y="188" font-family="'Liberation Sans', sans-serif" font-size="22.3" fill="#3a3a3a" textLength="12.4" lengthAdjust="spacingAndGlyphs">w</text>
</svg>
</body></html>
